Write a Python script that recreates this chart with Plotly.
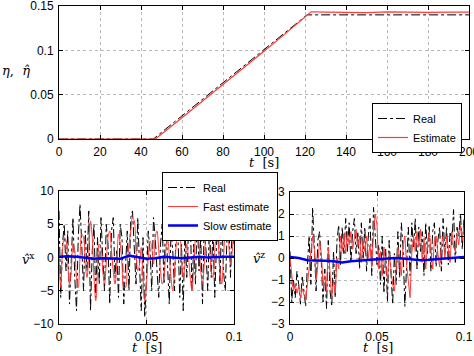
import numpy as np
import plotly.graph_objects as go

# ---------- data ----------
top_real_t = [0, 46, 121, 200]
top_real_v = [0, 0, 0.140, 0.140]
top_est_t = [0, 47, 60, 80, 100, 110, 123, 130, 140, 150, 160, 170, 180, 190, 200]
top_est_v = [0, 0, 0.024, 0.061, 0.099, 0.118, 0.1435, 0.1432, 0.1428, 0.1426, 0.1433, 0.1429, 0.1427, 0.1432, 0.1430]

x_fast = [0, -4.5, 1, 3, 2.5, -1, -4, -2, 2, 1, -3, -4.5, 0, 3.5, 3, -1, -3, 0.5, 5.5, 3,
          -3, -6.5, -2, 2, 1.5, -2, -4, -1, 3, 4, 1, -2, -4, -1, 3.5, 2, -1, -4.5, -4.5, -1,
          2, 4, 6, 5.5, 1, -2, -1, 1.5, -3, -6.5, -4, 0, 2.5, 1.5, -1, 3, 4, 1, -2, -4,
          -3, 1, 3, 0.5, -3, -5, -2, 2, 5, 4, 0, -3, -1, 2, 0, -3, -5, -1, 3, 5,
          2, -2, -4, -1, 4, 5.5, 2, -2, -3, 1, 4, 2, -2, -4, 0, 4, 5.5, 2, -1, 1, 5]
x_real = [7, -6, 2, 5, -2, 4, -7, 1, 6, -3, -8, 3, 8, 2, -5, 4, -2, 7, -8, 1,
          5, -6, 3, -4, 6, 0, -5, 5, 2, -7, 4, 6, -3, 1, -6, 5, 3, -7, -2, 4,
          -5, 6, 7, 2, -4, 6, -2, -8, 3, -9, -3, 4, 1, -5, 6, 3, -2, -6, 2, 5,
          -4, 7, -1, -7, 4, 1, -5, 6, 3, -6, 2, -8, 5, -3, 4, 6, -5, 2, -4, 7,
          -2, 3, -7, 5, 1, -5, 6, -3, 4, -6, 2, 5, -4, 7, -2, -5, 3, 6, -3, 5, 2]
x_slow = [0.1, 0.2, 0.1, 0.0, -0.2, -0.1, -0.1, -0.2, 0.3, 0.0, -0.2,
          -0.1, 0.1, 0.0, -0.1, 0.0, 0.1, 0.0, 0.1, 0.1, 0.1]

z_fast = [0, -0.8, -1.5, -1.2, -1.6, -1.3, -1.8, -1.4, -1.7, -1.9, -1.2,
          -0.5, 0.2, 1.0, 0.4, -1.0, -0.3, 0.8, 0.2, -1.2, -0.8,
          -1.5, 0.5, -0.9, -1.8, -1.0, -1.6, 0.0, -0.5, 1.0, 0.3,
          1.1, 0.2, 1.2, 0.6, 1.2, 0.4, 0.9, 1.3, 0.5, 1.0,
          -0.2, 0.8, 0.3, 1.0, 0.0, 0.6, -0.4, 1.2, 2.0, 1.5,
          -0.5, 0.3, -0.8, 0.5, -0.3, -1.0, 0.2, -0.6, -1.2, -1.5,
          -0.4, 0.5, 0.0, -0.8, 0.6, 1.0, -0.3, -1.0, -1.8, 0.2,
          1.0, 0.3, 1.2, 0.5, 1.3, -0.2, 0.9, -0.5, 0.6, 1.2,
          0.2, -0.5, 0.8, 1.0, 0.2, -0.4, 0.6, 1.0, 0.0, 1.0,
          0.4, -0.2, 1.2, 0.5, 0.3, 1.1, 0.6, 1.5, 0.8, 1.5]
z_real = [0.3, -2.0, -1.0, -1.8, -0.6, -1.2, -2.1, -0.8, -1.5, -2.2, -0.3,
          1.0, -1.2, 2.3, 0.5, -1.5, 0.8, 1.2, -0.2, -2.0, -0.5,
          -2.3, 0.8, -1.5, -2.2, 0.3, -1.8, 0.8, 1.5, -0.3, 1.4,
          0.2, 1.8, 0.3, 1.6, -0.2, 1.2, 1.8, 0.2, 1.2, -0.5,
          1.6, 0.0, 1.4, -0.6, 1.0, 1.8, -0.8, 2.3, 1.0, -0.3,
          0.6, -1.2, 1.0, -1.6, 0.4, -2.0, 0.8, -1.0, -2.1, 0.2,
          -1.2, 1.2, -0.9, 1.6, 0.4, -2.2, -0.3, 1.4, -0.8, 1.6,
          0.5, 1.8, -0.5, 1.4, 0.3, 1.2, -0.8, 1.6, 0.2, 1.5,
          -0.6, 1.2, 1.6, -0.4, 0.8, 1.4, -0.6, 1.8, 0.2, 1.4,
          -0.3, 1.2, 0.6, 2.2, -0.2, 1.4, 1.0, 2.0, 0.4, 1.8]
z_slow = [0.05, 0.0, -0.1, -0.1, -0.12, -0.15, -0.2, -0.15, -0.12, -0.1, -0.05,
          -0.05, 0.0, -0.02, -0.05, -0.1, -0.08, -0.05, 0.0, 0.03, 0.05]

top_xticks = list(range(0, 201, 20))
top_yticks = [0, 0.05, 0.1, 0.15]
top_yticklabels = ["0", "0.05", "0.1", "0.15"]
bx_ticks = [0, 0.05, 0.1]
bx_ticklabels = ["0", "0.05", "0.1"]
vx_ticks = [-10, -5, 0, 5, 10]
vz_ticks = [-3, -2, -1, 0, 1, 2, 3]

W, H = 474, 356

def tx(n):
    return np.linspace(0, 0.1, n)

fig = go.Figure()

RED = "#ff3a3a"
BLUE = "#0000ee"

# top
fig.add_trace(go.Scatter(x=top_real_t, y=top_real_v, mode="lines", name="Real",
                         line=dict(color="black", width=1, dash="dashdot"),
                         xaxis="x", yaxis="y", legend="legend"))
fig.add_trace(go.Scatter(x=top_est_t, y=top_est_v, mode="lines", name="Estimate",
                         line=dict(color=RED, width=1.2),
                         xaxis="x", yaxis="y", legend="legend"))

# bottom left
fig.add_trace(go.Scatter(x=tx(len(x_real)), y=x_real, mode="lines", name="Real",
                         line=dict(color="black", width=1, dash="dashdot"),
                         xaxis="x2", yaxis="y2", legend="legend2"))
fig.add_trace(go.Scatter(x=tx(len(x_fast)), y=x_fast, mode="lines", name="Fast estimate",
                         line=dict(color=RED, width=1, shape="spline"),
                         xaxis="x2", yaxis="y2", legend="legend2"))
fig.add_trace(go.Scatter(x=tx(len(x_slow)), y=x_slow, mode="lines", name="Slow estimate",
                         line=dict(color=BLUE, width=2.5),
                         xaxis="x2", yaxis="y2", legend="legend2"))

# bottom right
fig.add_trace(go.Scatter(x=tx(len(z_real)), y=z_real, mode="lines", showlegend=False,
                         line=dict(color="black", width=1, dash="dashdot"),
                         xaxis="x3", yaxis="y3"))
fig.add_trace(go.Scatter(x=tx(len(z_fast)), y=z_fast, mode="lines", showlegend=False,
                         line=dict(color=RED, width=1),
                         xaxis="x3", yaxis="y3"))
fig.add_trace(go.Scatter(x=tx(len(z_slow)), y=z_slow, mode="lines", showlegend=False,
                         line=dict(color=BLUE, width=2.5),
                         xaxis="x3", yaxis="y3"))

tick_font = dict(family="Liberation Sans, Arial, sans-serif", size=12, color="black")

def ax(**kw):
    base = dict(showline=True, linecolor="black", linewidth=1, mirror="allticks",
                ticks="inside", ticklen=4, tickcolor="black",
                showgrid=True, gridcolor="#b8b8b8", griddash="dot", gridwidth=1,
                zeroline=False, tickfont=tick_font, fixedrange=True, automargin=False,
                ticklabeloverflow="allow")
    base.update(kw)
    return base

leg_font = dict(family="Liberation Sans, Arial, sans-serif", size=11, color="black")

fig.update_layout(
    width=W, height=H,
    margin=dict(l=0, r=0, t=0, b=0),
    paper_bgcolor="white", plot_bgcolor="white",
    xaxis=ax(domain=[59 / W, 469 / W], range=[0, 200], tickvals=top_xticks, anchor="y",
             ticklabelstandoff=2),
    yaxis=ax(domain=[1 - 139 / H, 1 - 6 / H], range=[0, 0.15], tickvals=top_yticks,
             ticktext=top_yticklabels, anchor="x", ticklabelstandoff=2),
    xaxis2=ax(domain=[59 / W, 234 / W], range=[0, 0.1], tickvals=bx_ticks,
              ticktext=bx_ticklabels, anchor="y2", ticklabelstandoff=2),
    yaxis2=ax(domain=[1 - 324 / H, 1 - 191 / H], range=[-10, 10], tickvals=vx_ticks,
              anchor="x2", ticklabelstandoff=2),
    xaxis3=ax(domain=[290 / W, 464 / W], range=[0, 0.1], tickvals=bx_ticks,
              ticktext=bx_ticklabels, anchor="y3", ticklabelstandoff=2),
    yaxis3=ax(domain=[1 - 324 / H, 1 - 192 / H], range=[-3, 3], tickvals=vz_ticks,
              anchor="x3", ticklabelstandoff=2),
    legend=dict(x=462 / W, y=1 - 103 / H, xanchor="right", yanchor="top",
                bgcolor="white", bordercolor="black", borderwidth=1,
                font=leg_font, tracegroupgap=0, itemwidth=30),
    legend2=dict(x=162 / W, y=1 - 172 / H, xanchor="left", yanchor="top",
                 bgcolor="white", bordercolor="black", borderwidth=1,
                 font=leg_font, tracegroupgap=0, itemwidth=30),
    showlegend=True,
)

lab_font = dict(family="DejaVu Serif, Liberation Serif, serif", size=13, color="black")
annots = [
    dict(x=16 / W, y=1 - 70 / H, text="<i>η</i>,  <i>η̂</i>"),
    dict(x=264 / W, y=1 - 163 / H, text="<i>t</i>  [s]"),
    dict(x=147 / W, y=1 - 347 / H, text="<i>t</i>  [s]"),
    dict(x=378 / W, y=1 - 347 / H, text="<i>t</i>  [s]"),
    dict(x=28 / W, y=1 - 259 / H, text="<i>v̂</i><sup>x</sup>"),
    dict(x=259 / W, y=1 - 258 / H, text="<i>v̂</i><sup>z</sup>"),
]
for a in annots:
    fig.add_annotation(xref="paper", yref="paper", showarrow=False,
                       xanchor="center", yanchor="middle", font=lab_font, **a)

fig.write_html("out.html", config={"displayModeBar": False},
               post_script="document.body.style.margin='0';document.body.style.overflow='hidden';")
